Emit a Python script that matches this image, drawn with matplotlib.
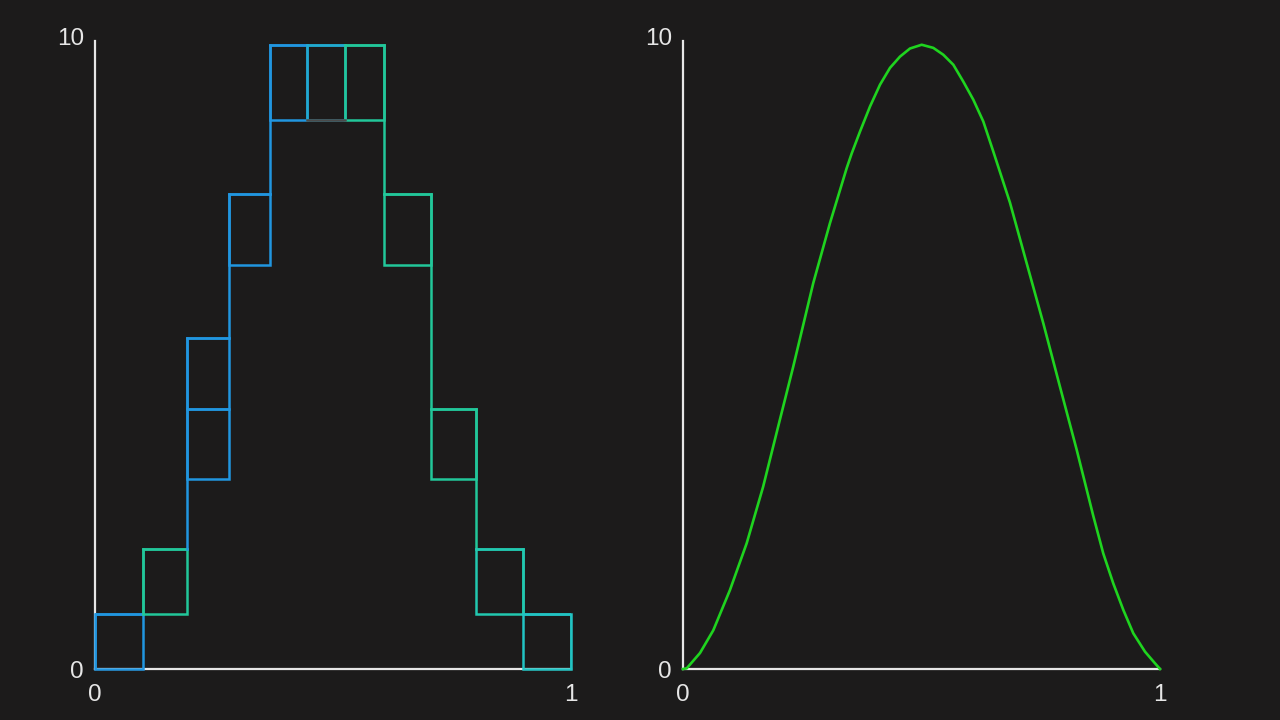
import matplotlib.pyplot as plt
from matplotlib.patches import Rectangle

BG = "#1c1b1b"
AXIS = "#e6e6e6"

# left panel: column edges, column heights and the outlined top blocks
edges = [0.0, 0.0999, 0.1945, 0.2818, 0.3670, 0.4448, 0.5268, 0.6088, 0.7066, 0.8023, 0.8991, 1.0]
col_heights = [0.889, 1.915, 5.31, 7.61, 10.0, 10.0, 10.0, 7.61, 4.16, 1.915, 0.889]
top_boxes = [
    [(0.0, 0.889)],
    [(0.889, 1.915)],
    [(3.045, 4.16), (4.16, 5.31)],
    [(6.47, 7.61)],
    [(8.80, 10.0)],
    [(8.80, 10.0)],
    [(8.80, 10.0)],
    [(6.47, 7.61)],
    [(3.045, 4.16)],
    [(0.889, 1.915)],
    [(0.0, 0.889)],
]
col_colors = ["#2196e0", "#22c79a", "#2196e0", "#2196e0", "#2196e0", "#21aad0",
              "#22c79a", "#22c79a", "#22c79a", "#22c8b0", "#22c4c4"]

# right panel: curve
curve_x = [0, .0078, .0356, .0635, .0985, .1335, .168, .203, .231, .273, .308, .343,
           .3537, .3711, .392, .413, .434, .4549, .4759, .5004, .5247, .5457, .5667,
           .5876, .6086, .6296, .6505, .6855, .7205, .7553, .790, .8254, .8602,
           .8811, .9021, .9231, .944, .9686, .9895, 1.0]
curve_y = [0, .011, .256, .62, 1.266, 2.014, 2.92, 3.99, 4.84, 6.18, 7.14, 8.02,
           8.26, 8.61, 9.01, 9.36, 9.63, 9.81, 9.94, 10.0, 9.95, 9.84, 9.68,
           9.41, 9.12, 8.77, 8.29, 7.47, 6.50, 5.54, 4.53, 3.51, 2.45,
           1.85, 1.37, .946, .572, .277, .091, 0]

x_ticks = [0, 1]
y_ticks = [0, 10]

plt.rcParams["font.family"] = ["Liberation Sans", "DejaVu Sans"]

fig = plt.figure(figsize=(12.8, 7.2), dpi=100, facecolor=BG)
ax1 = fig.add_axes([95 / 1280, 1 - 669 / 720, 475.5 / 1280, 628 / 720])
ax2 = fig.add_axes([683 / 1280, 1 - 669 / 720, 477 / 1280, 628 / 720])


def style(ax):
    ax.set_facecolor(BG)
    ax.set_xlim(0, 1)
    ax.set_ylim(0, 10.06)
    for s in ("top", "right"):
        ax.spines[s].set_visible(False)
    for s in ("left", "bottom"):
        ax.spines[s].set_color(AXIS)
        ax.spines[s].set_linewidth(1.6)
    ax.set_xticks(x_ticks)
    ax.set_xticklabels([str(v) for v in x_ticks])
    ax.set_yticks(y_ticks)
    ax.set_yticklabels([str(v) for v in y_ticks])
    ax.tick_params(length=0, colors=AXIS, labelsize=17.5, pad=11)
    ax.tick_params(axis="y", pad=8)
    ax.get_yticklabels()[1].set_va("baseline")


style(ax1)
style(ax2)

lw = 1.8
n = len(col_heights)
for i in range(n):
    h = col_heights[i]
    c = col_colors[i]
    x0, x1 = edges[i], edges[i + 1]
    ax1.plot([x0, x1], [h, h], color=c, lw=lw, zorder=3, solid_capstyle="projecting")
    left_lo = 0 if i == 0 else col_heights[i - 1]
    if left_lo < h:
        ax1.plot([x0, x0], [left_lo, h], color=c, lw=lw, zorder=3)
    right_lo = 0 if i == n - 1 else col_heights[i + 1]
    if right_lo < h:
        ax1.plot([x1, x1], [right_lo, h], color=c, lw=lw, zorder=3)
    for lo, hi in top_boxes[i]:
        ax1.add_patch(Rectangle((x0, lo), x1 - x0, hi - lo, fill=False,
                                edgecolor=c, lw=lw, zorder=3, clip_on=False))

# the middle block's bottom edge is dim
ax1.plot([edges[5], edges[6]], [8.80, 8.80], color="#4a4a4a", lw=lw, zorder=4)

ax2.plot(curve_x, curve_y, color="#1fd41f", lw=1.9, zorder=3, clip_on=False,
         solid_joinstyle="round")

fig.savefig("out.png", dpi=100, facecolor=BG)
